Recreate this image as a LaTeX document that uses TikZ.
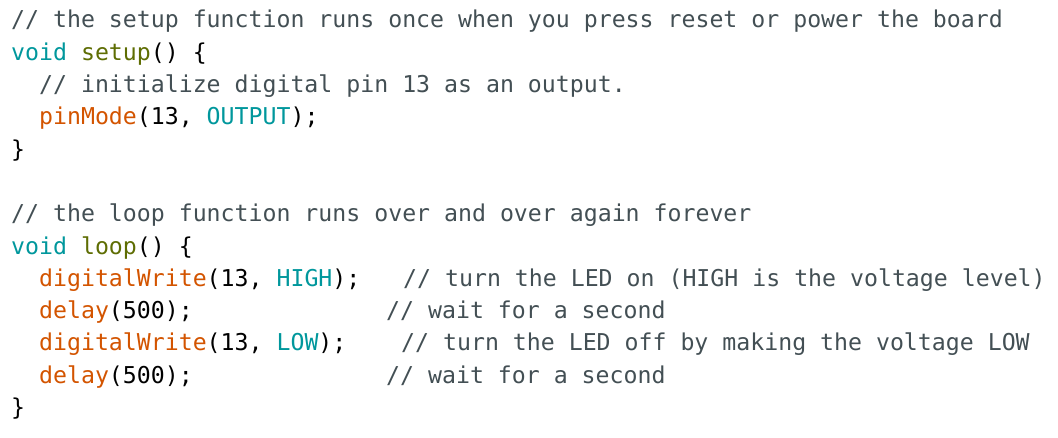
\documentclass[tikz,border=0pt]{standalone}
\usepackage{fontspec}
\setmonofont{DejaVu Sans Mono}
\definecolor{cmt}{HTML}{434F54}
\definecolor{kw}{HTML}{00979C}
\definecolor{fn}{HTML}{5E6D03}
\definecolor{lib}{HTML}{D35400}
\newcommand{\cK}[1]{\textcolor{kw}{#1}}
\newcommand{\cF}[1]{\textcolor{fn}{#1}}
\newcommand{\cL}[1]{\textcolor{lib}{#1}}
\begin{document}
\begin{tikzpicture}[
    x=1pt, y=1pt,
    code/.style={anchor=base west, inner sep=0pt, font=\fontsize{23.2}{23}\ttfamily},
    comment/.style={code, text=cmt},
  ]
  \useasboundingbox (0,0) rectangle (1058,-438);
  % code lines
  \foreach \row/\name/\txt in {
      0/l1/{\textcolor{cmt}{//~the~setup~function~runs~once~when~you~press~reset~or~power~the~board}},
      1/l2/{\cK{void}~\cF{setup}()~\{},
      2/l3/{~~\textcolor{cmt}{//~initialize~digital~pin~13~as~an~output.}},
      3/l4/{~~\cL{pinMode}(13,~\cK{OUTPUT});},
      4/l5/{\}},
      6/l7/{\textcolor{cmt}{//~the~loop~function~runs~over~and~over~again~forever}},
      7/l8/{\cK{void}~\cF{loop}()~\{},
      8/l9/{~~\cL{digitalWrite}(13,~\cK{HIGH});},
      9/l10/{~~\cL{delay}(500);},
      10/l11/{~~\cL{digitalWrite}(13,~\cK{LOW});},
      11/l12/{~~\cL{delay}(500);},
      12/l13/{\}}}
    \node[code] (\name) at (11,{-28-32.3*\row}) {\txt};
  % trailing comments
  \foreach \xx/\row/\name/\txt in {
      403/8/c9/{//~turn~the~LED~on~(HIGH~is~the~voltage~level)},
      386/9/c10/{//~wait~for~a~second},
      401/10/c11/{//~turn~the~LED~off~by~making~the~voltage~LOW},
      386/11/c12/{//~wait~for~a~second}}
    \node[comment] (\name) at (\xx,{-28-32.3*\row}) {\txt};
\end{tikzpicture}
\end{document}
